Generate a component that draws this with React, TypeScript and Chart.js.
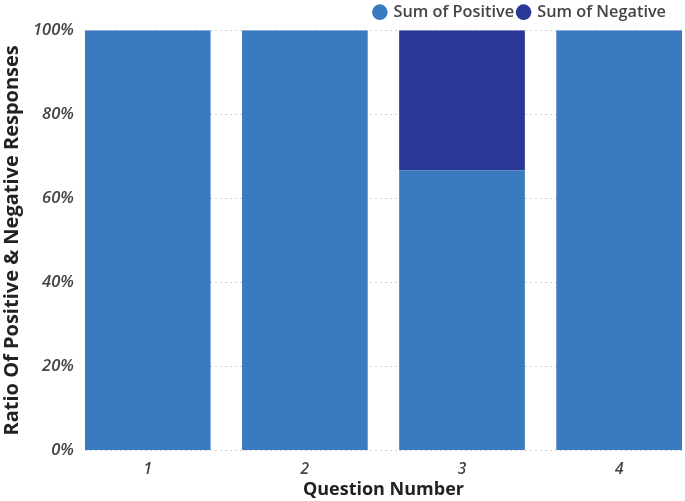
import React, { useEffect, useRef } from "react";
import { Chart, registerables } from "chart.js";

Chart.register(...registerables);

const categories = ["1", "2", "3", "4"];
const positiveRatio = [1, 1, 0.667, 1];
const negativeRatio = [0, 0, 0.333, 0];
const yTicks = [0, 0.2, 0.4, 0.6, 0.8, 1];

const legendShift = {
  id: "legendShift",
  afterLayout(chart: any) {
    if (chart.legend) chart.legend.right -= 12;
  },
};

export default function App() {
  const ref = useRef<HTMLCanvasElement | null>(null);
  useEffect(() => {
    document.body.style.margin = "0";
    const ctx = ref.current!;
    const chart = new Chart(ctx, {
      type: "bar",
      data: {
        labels: categories,
        datasets: [
          {
            label: "Sum of Positive",
            data: positiveRatio,
            backgroundColor: "#3a7bbf",
            borderWidth: 0,
            barPercentage: 0.8,
            categoryPercentage: 1,
          },
          {
            label: "Sum of Negative",
            data: negativeRatio,
            backgroundColor: "#293896",
            borderWidth: 0,
            barPercentage: 0.8,
            categoryPercentage: 1,
          },
        ],
      },
      plugins: [legendShift],
      options: {
        animation: false,
        responsive: false,
        maintainAspectRatio: false,
        layout: { padding: { top: 0, right: 3, left: 2, bottom: 0 } },
        plugins: {
          legend: {
            position: "top",
            align: "end",
            labels: {
              usePointStyle: true,
              pointStyle: "circle",
              boxWidth: 11,
              boxHeight: 11,
              padding: 4,
              color: "#444",
              font: { family: "Open Sans", size: 16.3, weight: "600" },
            },
          },
          tooltip: { enabled: false },
        },
        scales: {
          x: {
            stacked: true,
            offset: false,
            afterBuildTicks: (axis: any) => {
              axis._startValue = -0.4;
              axis._valueRange = categories.length - 1 + 0.8;
            },
            grid: { display: false },
            border: { display: false },
            ticks: {
              color: "#444",
              font: { family: "Open Sans", size: 15.5, style: "italic", weight: "600" },
              padding: 2,
            },
            title: {
              display: true,
              text: "Question Number",
              color: "#222",
              font: { family: "Open Sans", size: 18, weight: "bold", lineHeight: 1 },
              padding: { top: 0, bottom: 2 },
            },
          },
          y: {
            stacked: true,
            min: 0,
            max: 1,
            afterBuildTicks: (axis: any) => {
              axis.ticks = yTicks.map((v) => ({ value: v }));
            },
            grid: {
              color: "#d4d4d4",
              lineWidth: 1,
              drawTicks: false,
            },
            border: { display: false, dash: [2, 3] },
            ticks: {
              color: "#444",
              font: { family: "Open Sans", size: 16.5, style: "italic", weight: "600" },
              padding: 11,
              callback: (v: any) => Math.round(Number(v) * 100) + "%",
            },
            title: {
              display: true,
              text: "Ratio Of Positive & Negative Responses",
              color: "#222",
              font: { family: "Open Sans", size: 20, weight: "bold", lineHeight: 1 },
              padding: { top: 0, bottom: 0 },
            },
          },
        },
      },
    } as any);
    return () => chart.destroy();
  }, []);
  return (
    <div style={{ position: "absolute", left: 0, top: 0, width: 685, height: 501 }}>
      <canvas ref={ref} width={685} height={501} style={{ width: 685, height: 501 }} />
    </div>
  );
}
